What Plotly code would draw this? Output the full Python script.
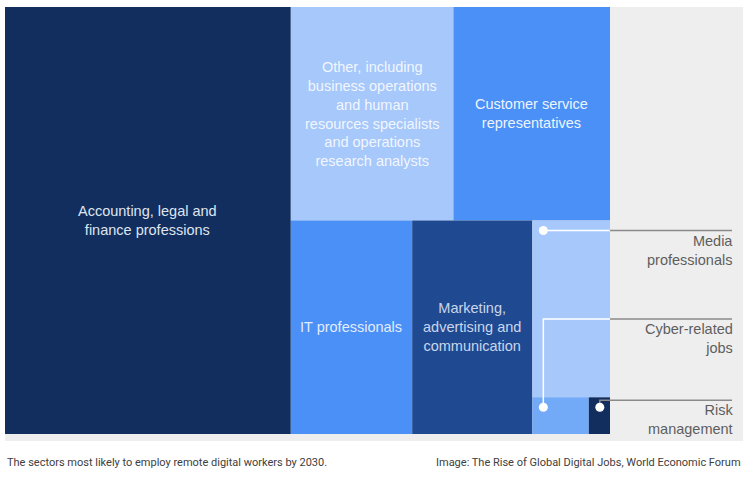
import plotly.graph_objects as go

# ---- data (share of remote digital jobs, %) ----
sectors = ["Accounting, legal and finance professions",
           "Other, including business operations and human resources specialists and operations research analysts",
           "Customer service representatives",
           "IT professionals",
           "Marketing, advertising and communication",
           "Media professionals",
           "Cyber-related jobs",
           "Risk management"]
values = [47.1, 13.4, 12.9, 10.0, 9.9, 5.3, 0.8, 0.3]
cell_labels = ["Accounting, legal and<br>finance professions",
               "Other, including<br>business operations<br>and human<br>resources specialists<br>and operations<br>research analysts",
               "Customer service<br>representatives",
               "IT professionals",
               "Marketing,<br>advertising and<br>communication",
               "", "", ""]
side_labels = {"Media professionals": "Media<br>professionals",
               "Cyber-related jobs": "Cyber-related<br>jobs",
               "Risk management": "Risk<br>management"}
colors = ["#122e5f", "#a6c8fb", "#4a90f6", "#4a90f6", "#1f4a92", "#a6c8fb", "#73aaf7", "#122e5f"]
text_colors = ["#dfe5ef", "#f2f6ff", "#eef4ff", "#e2ecfd", "#c9d6ec", "", "", ""]

# hierarchy for slice-dice layout (indices into sectors)
tree = [0, [[1, 2], [3, 4, [5, [6, 7]]]]]

def total(node):
    if isinstance(node, int):
        return values[node]
    return sum(total(c) for c in node)

rects = {}
def layout(node, x0, y0, x1, y1, horizontal):
    if isinstance(node, int):
        rects[node] = (x0, y0, x1, y1)
        return
    t = total(node)
    pos = x0 if horizontal else y0
    for c in node:
        frac = total(c) / t
        if horizontal:
            nx = pos + (x1 - x0) * frac
            layout(c, pos, y0, nx, y1, not horizontal)
            pos = nx
        else:
            ny = pos + (y1 - y0) * frac
            layout(c, x0, pos, x1, ny, not horizontal)
            pos = ny

W, H = 605, 427          # treemap size in axis units (px)
PANEL_W, PANEL_H = 738, 434
layout(tree, 0, 0, W, H, True)

LABEL_FONT = "Liberation Sans, Arial, Helvetica, sans-serif"

fig = go.Figure()
shapes = []
annotations = []
for i, name in enumerate(sectors):
    x0, y0, x1, y1 = rects[i]
    shapes.append(dict(type="rect", xref="x", yref="y", x0=x0, y0=y0, x1=x1, y1=y1,
                       fillcolor=colors[i], line=dict(width=0), layer="below"))
    if cell_labels[i]:
        annotations.append(dict(x=(x0 + x1) / 2, y=(y0 + y1) / 2, xref="x", yref="y",
                                text=cell_labels[i], showarrow=False, align="center",
                                font=dict(family=LABEL_FONT, size=14.5,
                                          color=text_colors[i])))

# leader lines for small cells
LABEL_X = 727
CYBER_ELBOW = 312
dot_x, dot_y = [], []
for i, name in enumerate(sectors):
    if name not in side_labels:
        continue
    x0, y0, x1, y1 = rects[i]
    dx, dy = x0 + 11, y0 + 10
    dot_x.append(dx); dot_y.append(dy)
    if name == "Media professionals":
        ly = dy
        shapes.append(dict(type="line", xref="x", yref="y", x0=dx, y0=ly, x1=W, y1=ly,
                           line=dict(color="white", width=1.5), layer="below"))
        shapes.append(dict(type="line", xref="x", yref="y", x0=W, y0=ly, x1=LABEL_X, y1=ly,
                           line=dict(color="#8a8a8a", width=1.5), layer="below"))
    elif name == "Cyber-related jobs":
        ly = CYBER_ELBOW
        shapes.append(dict(type="path", xref="x", yref="y",
                           path=f"M {dx} {dy} L {dx} {ly} L {W} {ly}",
                           line=dict(color="white", width=1.5), layer="below"))
        shapes.append(dict(type="line", xref="x", yref="y", x0=W, y0=ly, x1=LABEL_X, y1=ly,
                           line=dict(color="#8a8a8a", width=1.5), layer="below"))
    else:
        ly = y0 + 3
        shapes.append(dict(type="path", xref="x", yref="y",
                           path=f"M {dx} {dy} L {dx} {ly} L {LABEL_X} {ly}",
                           line=dict(color="#8a8a8a", width=1.5), layer="below"))
    annotations.append(dict(x=LABEL_X + 3, y=ly, xref="x", yref="y", xanchor="right",
                            yanchor="top", align="right", text=side_labels[name],
                            showarrow=False,
                            font=dict(family=LABEL_FONT, size=14.5, color="#5e5e5e")))

fig.add_trace(go.Scatter(x=dot_x, y=dot_y, mode="markers",
                         marker=dict(size=9, color="white"), hoverinfo="skip",
                         showlegend=False))

# footer
foot_font = dict(family="Roboto, Liberation Sans, sans-serif", size=11, color="#404040")
annotations.append(dict(x=0, y=0, xref="paper", yref="paper", xanchor="left",
                        yanchor="middle", yshift=-21, showarrow=False,
                        text="The sectors most likely to employ remote digital workers by 2030.",
                        font=foot_font))
annotations.append(dict(x=1, y=0, xref="paper", yref="paper", xanchor="right",
                        yanchor="middle", yshift=-21, showarrow=False,
                        text="Image: The Rise of Global Digital Jobs, World Economic Forum",
                        font=foot_font))

fig.update_layout(
    width=752, height=477,
    margin=dict(l=5, r=9, t=7, b=36),
    paper_bgcolor="white", plot_bgcolor="#eeeeee",
    shapes=shapes, annotations=annotations,
    xaxis=dict(range=[0, PANEL_W], visible=False, fixedrange=True),
    yaxis=dict(range=[PANEL_H, 0], visible=False, fixedrange=True),
    showlegend=False,
)
fig.write_html("out.html", config={"displayModeBar": False})
